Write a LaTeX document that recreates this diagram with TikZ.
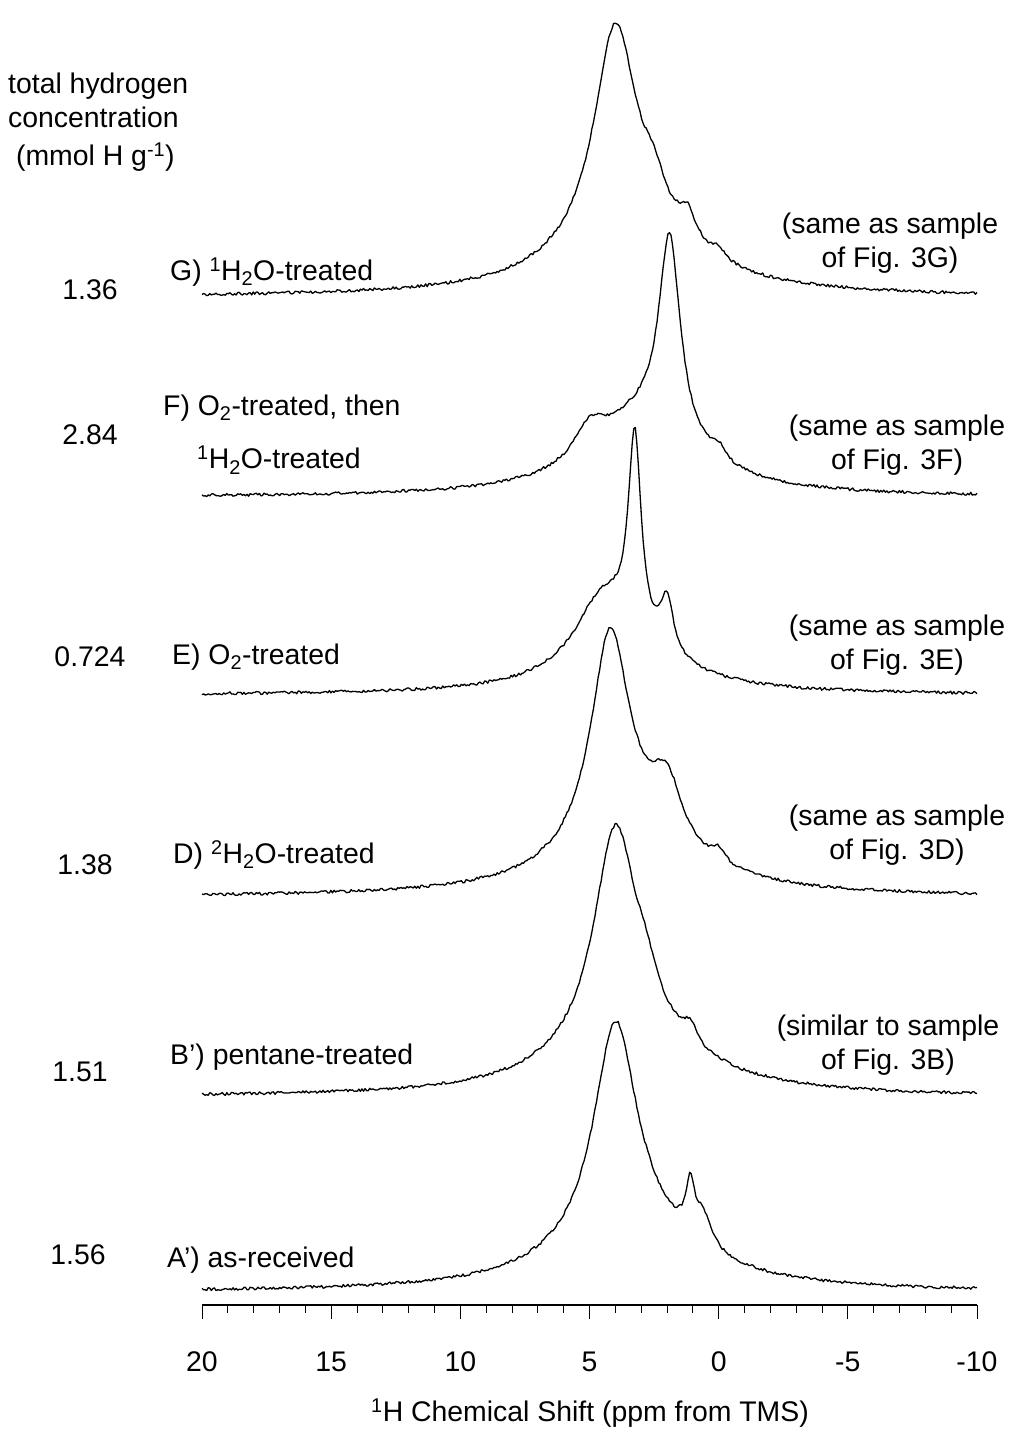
\documentclass[tikz,border=0pt]{standalone}
\usepackage{fontspec}
\setmainfont{Liberation Sans}
\begin{document}
\begin{tikzpicture}[x=1bp,y=-1bp,
  lbl/.style={font=\fontsize{28.5}{34}\selectfont,inner sep=0pt},
  spec/.style={line width=1.3bp,line join=round}]
\useasboundingbox (0,0) rectangle (1024,1435);
\pgfmathsetseed{7}
\newcommand{\Lor}[3]{#1/(1+((\x-(#2))/(#3))^2)}
% axis
\draw[line width=1.2bp] (202,1305) -- (977,1305);
\foreach \i in {0,...,30}{\draw[line width=1bp] ({202+\i*25.833},1305) -- ++(0,8);}
\foreach \i/\t in {0/20,5/15,10/10,15/5,20/0,25/-5,30/-10}{
  \draw[line width=1bp] ({202+\i*25.833},1305) -- ++(0,14);
  \node[lbl] (t\i) at ({202+\i*25.833},1362) {\t};}
\node[lbl] (xlab) at (590,1413) {\textsuperscript{1}H Chemical Shift (ppm from TMS)};
% spectra
\draw[spec] plot[domain=20:-10,samples=500] ({202+(20-\x)*25.833},{297+1.5*rand-(\Lor{212}{4}{1.0}+\Lor{60}{3.5}{3}+\Lor{30}{2.5}{0.5}+\Lor{28}{1.2}{0.4}+\Lor{10}{0}{0.3})});
\draw[spec] plot[domain=20:-10,samples=500] ({202+(20-\x)*25.833},{497+1.5*rand-(\Lor{200}{1.9}{0.5}+\Lor{75}{3}{2.5}+\Lor{30}{5}{0.7}+\Lor{12}{0}{0.3})});
\draw[spec] plot[domain=20:-10,samples=500] ({202+(20-\x)*25.833},{695+1.5*rand-(\Lor{200}{3.25}{0.3}+\Lor{70}{4.5}{1.3}+\Lor{55}{2}{0.3}+\Lor{30}{3.5}{3})});
\draw[spec] plot[domain=20:-10,samples=500] ({202+(20-\x)*25.833},{897+1.5*rand-(\Lor{212}{4.2}{0.9}+\Lor{55}{3.5}{3}+\Lor{60}{2}{0.7}+\Lor{12}{0}{0.3})});
\draw[spec] plot[domain=20:-10,samples=500] ({202+(20-\x)*25.833},{1097+1.5*rand-(\Lor{210}{4}{1.0}+\Lor{60}{3.5}{3}+\Lor{25}{2.8}{0.5}+\Lor{18}{1.1}{0.3})});
\draw[spec] plot[domain=20:-10,samples=500] ({202+(20-\x)*25.833},{1292+1.5*rand-(\Lor{212}{4}{1.0}+\Lor{60}{3.5}{3}+\Lor{50}{1.1}{0.2}+\Lor{30}{0.6}{0.4})});
% left header
\node[lbl,anchor=west,align=left] (hdr) at (8,122) {total hydrogen\\concentration\\[4bp]\ (mmol H g\textsuperscript{-1})};
\node[lbl] (nG) at (90,290) {1.36};
\node[lbl] (nF) at (90,435) {2.84};
\node[lbl] (nE) at (90,657) {0.724};
\node[lbl] (nD) at (85,865) {1.38};
\node[lbl] (nB) at (80,1072) {1.51};
\node[lbl] (nA) at (78,1255) {1.56};
\node[lbl,anchor=west] (sG) at (170,272) {G) \textsuperscript{1}H\textsubscript{2}O-treated};
\node[lbl,anchor=west] (sF) at (163,408) {F) O\textsubscript{2}-treated, then};
\node[lbl,anchor=west] (sF2) at (197,460) {\textsuperscript{1}H\textsubscript{2}O-treated};
\node[lbl,anchor=west] (sE) at (172,657) {E) O\textsubscript{2}-treated};
\node[lbl,anchor=west] (sD) at (173,855) {D) \textsuperscript{2}H\textsubscript{2}O-treated};
\node[lbl,anchor=west] (sB) at (170,1057) {B') pentane-treated};
\node[lbl,anchor=west] (sA) at (167,1260) {A') as-received};
\node[lbl,align=center] (rG) at (890,243) {(same as sample\\of Fig. 3G)};
\node[lbl,align=center] (rF) at (897,445) {(same as sample\\of Fig. 3F)};
\node[lbl,align=center] (rE) at (897,645) {(same as sample\\of Fig. 3E)};
\node[lbl,align=center] (rD) at (897,835) {(same as sample\\of Fig. 3D)};
\node[lbl,align=center] (rB) at (888,1045) {(similar to sample\\of Fig. 3B)};
\end{tikzpicture}
\end{document}
